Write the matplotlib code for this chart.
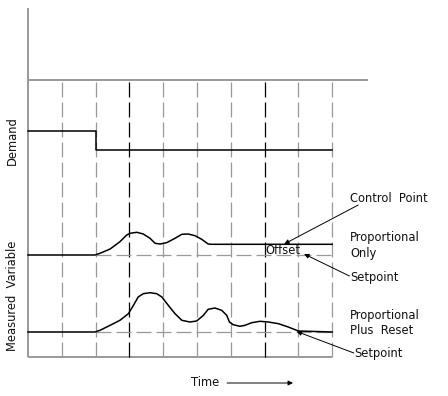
import matplotlib
matplotlib.use("Agg")
import matplotlib.pyplot as plt

# ---- data (time in grid divisions, level in diagram units) ----
grid_times = [1, 2, 3, 4, 5, 6, 7, 8, 9]
dark_grid = [3, 7]

demand_t = [0, 2, 2, 9]
demand_v = [226, 226, 207, 207]

prop_t = [0, 1.98, 2.13, 2.43, 2.72, 2.92, 3.02, 3.22, 3.41, 3.61, 3.76, 3.91,
          4.10, 4.35, 4.55, 4.74, 4.94, 5.14, 5.33, 5.43, 9.0]
prop_v = [102, 102, 103.7, 108, 115.3, 122, 123.7, 124.7, 123, 118.7, 113.7, 113,
          114.3, 118.7, 122.7, 123, 121.3, 117.7, 113, 112.7, 112.7]
prop_setpoint = 102

reset_t = [0, 1.98, 2.13, 2.43, 2.72, 2.97, 3.12, 3.26, 3.41, 3.61, 3.81, 3.96,
           4.15, 4.35, 4.55, 4.79, 4.99, 5.19, 5.33, 5.53, 5.73, 5.88, 5.96,
           6.07, 6.27, 6.42, 6.62, 6.86, 7.11, 7.41, 7.70, 8.0, 9.0]
reset_v = [25, 25, 26.7, 31.7, 36.7, 43.3, 51.7, 60, 63.3, 64.3, 63.3, 60,
           51.7, 43.3, 36.7, 35, 36, 41.7, 47.7, 49, 46.7, 41.7, 35,
           32.3, 30.7, 31.7, 34.3, 35.7, 35, 33.3, 30, 26, 25]
reset_setpoint = 25

top_level = 277
axis_top = 349

PX = 33.8
fig = plt.figure(figsize=(4.48, 3.96), dpi=100)
ax = fig.add_axes([0, 0, 1, 1])
ax.set_xlim(-28 / PX, (448 - 28) / PX)
ax.set_ylim(-39, 357)
ax.axis('off')

GRAY = '#999999'
# frame lines
ax.plot([0, 0], [0, axis_top], color=GRAY, lw=1.4, solid_capstyle='butt')
ax.plot([0, 10.06], [top_level, top_level], color=GRAY, lw=1.4, solid_capstyle='butt')
ax.plot([0, 9], [0, 0], color=GRAY, lw=1.4, solid_capstyle='butt')

# dashed time grid
for t in grid_times:
    c = 'black' if t in dark_grid else GRAY
    ax.plot([t, t], [0, top_level], color=c, lw=0.9, dashes=(12, 4))

# setpoints
ax.plot([2, 9], [prop_setpoint, prop_setpoint], color=GRAY, lw=0.9, dashes=(12, 4))
ax.plot([2, 9], [reset_setpoint, reset_setpoint], color=GRAY, lw=0.9, dashes=(12, 4))

# curves
ax.plot(demand_t, demand_v, color='black', lw=1.1)
ax.plot(prop_t, prop_v, color='black', lw=1.1, solid_joinstyle='round')
ax.plot(reset_t, reset_v, color='black', lw=1.1, solid_joinstyle='round')

fs = 8.3
tc = '#111111'
ax.text(-0.47, 216, 'Demand', rotation=90, ha='center', va='center', fontsize=fs, color=tc)
ax.text(-0.47, 61, 'Measured  Variable', rotation=90, ha='center', va='center', fontsize=fs, color=tc)
ax.text(5.24, -26, 'Time', ha='center', va='center', fontsize=fs, color=tc)
ax.annotate('', xy=(7.84, -26), xytext=(5.89, -26),
            arrowprops=dict(arrowstyle='-|>', lw=0.7, color='black', mutation_scale=7,
                            shrinkA=0, shrinkB=0))

xl = (350 - 28) / PX
ax.text(xl, 159, 'Control  Point', ha='left', va='center', fontsize=fs, color=tc)
ax.text(xl, 120, 'Proportional', ha='left', va='center', fontsize=fs, color=tc)
ax.text(xl, 104, 'Only', ha='left', va='center', fontsize=fs, color=tc)
ax.text(xl, 79, 'Setpoint', ha='left', va='center', fontsize=fs, color=tc)
ax.text((265 - 28) / PX, 107, 'Offset', ha='left', va='center', fontsize=fs, color=tc)
ax.text(xl, 42, 'Proportional', ha='left', va='center', fontsize=fs, color=tc)
ax.text(xl, 26, 'Plus  Reset', ha='left', va='center', fontsize=fs, color=tc)
ax.text((354 - 28) / PX, 3, 'Setpoint', ha='left', va='center', fontsize=fs, color=tc)

ap = dict(arrowstyle='-|>', lw=0.7, color='black', mutation_scale=7, shrinkA=0, shrinkB=0)
ax.annotate('', xy=(7.58, 113), xytext=(9.77, 152), arrowprops=ap)
ax.annotate('', xy=(8.17, 103), xytext=(9.51, 81), arrowprops=ap)
ax.annotate('', xy=(7.95, 25.5), xytext=(9.64, 4), arrowprops=ap)

fig.savefig('out.png', dpi=100)
